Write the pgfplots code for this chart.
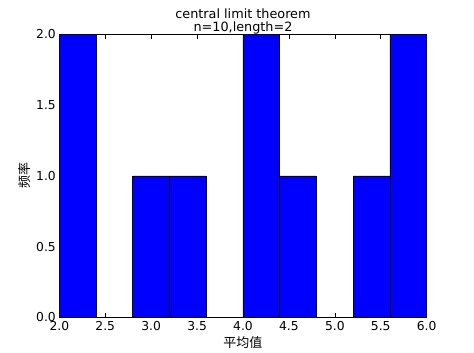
\documentclass[border=0pt]{standalone}
\usepackage{pgfplots}
\pgfplotsset{compat=1.18}
\usepackage{fontspec}
\setmainfont{DejaVu Sans}
\newfontfamily\cjk{Noto Sans CJK SC}
\begin{document}
\begin{tikzpicture}[x=1pt,y=1pt]
\useasboundingbox (-59.3pt,-35.7pt) rectangle (414.7pt,317.3pt);
\begin{axis}[
  at={(0,0)}, anchor=south west,
  scale only axis, width=367.4pt, height=282.8pt,
  xmin=2, xmax=6, ymin=0, ymax=2,
  xtick={2,2.5,...,6}, ytick={0,0.5,...,2},
  tick align=inside, major tick length=4pt,
  xtick pos=both, ytick pos=both,
  tick style={black, line width=0.6pt},
  axis line style={black, line width=0.8pt},
  /pgf/number format/assume math mode=true,
  /pgf/number format/.cd, fixed, fixed zerofill, precision=1, /pgfplots/.cd,
  tick label style={font=\fontsize{12.3}{14}\selectfont},
  xticklabel style={yshift=-1pt},
  title style={font=\fontsize{12.8}{13.5}\selectfont, align=center, yshift=-9.5pt},
  title={central limit theorem\\n=10,length=2},
  xlabel={\cjk 平均值}, ylabel={\cjk 频率},
  label style={font=\fontsize{13}{14}\selectfont},
  xlabel style={yshift=1pt},
  ylabel style={yshift=-1pt},
]
\addplot[ybar interval, fill={rgb,1:red,0;green,0;blue,1}, draw=black, line width=0.6pt]
  coordinates {(2.0,2) (2.4,0) (2.8,1) (3.2,1) (3.6,0) (4.0,2) (4.4,1) (4.8,0) (5.2,1) (5.6,2) (6.0,2)};
\end{axis}
\end{tikzpicture}
\end{document}
